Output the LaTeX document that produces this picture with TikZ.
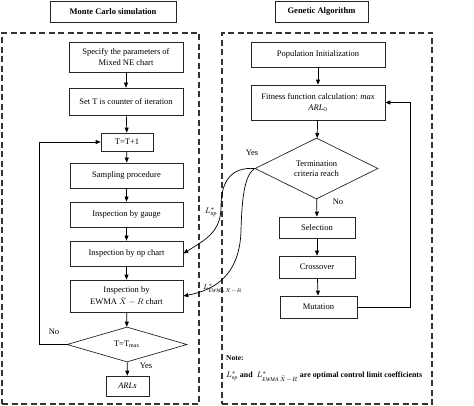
\documentclass[tikz,border=0pt]{standalone}
\usepackage{fontspec}
\setmainfont{Liberation Serif}
\usetikzlibrary{shapes.geometric,arrows.meta}
\newcommand{\Lnp}{$L^{*}_{\mathit{np}}$}
\newcommand{\Lew}{$L^{*}_{\mathit{EWMA}\,\bar{X}-R}$}
\begin{document}
\begin{tikzpicture}[x=1pt,y=-1pt,
  box/.style={draw=black!85,line width=0.7pt,inner sep=1pt,align=center,font=\fontsize{8.5}{11}\selectfont},
  title/.style={draw=black!85,line width=0.8pt,inner sep=1pt,align=center,font=\bfseries\fontsize{8.5}{10}\selectfont},
  dia/.style={draw=black!85,line width=0.7pt,diamond,aspect=2,inner sep=0pt,align=center,font=\fontsize{8.5}{10.5}\selectfont},
  frame/.style={draw=black!80,line width=1.1pt,dash pattern=on 6pt off 3.5pt},
  arr/.style={-{Triangle[length=5pt,width=4pt]},line width=0.7pt,draw=black},
  lbl/.style={font=\fontsize{8.5}{10}\selectfont,inner sep=0pt}
]
\useasboundingbox (0,0) rectangle (474,406);
% titles
\node[title,minimum width=126pt,minimum height=21pt] (t1) at (113,11.5) {Monte Carlo simulation};
\node[title,minimum width=93pt,minimum height=21pt] (t2) at (321.5,11.5) {Genetic Algorithm};
% frames
\node[frame,minimum width=197pt,minimum height=371pt] (f1) at (100.5,218.5) {};
\node[frame,minimum width=210pt,minimum height=371pt] (f2) at (327,218.5) {};
% left column
\node[box,minimum width=114pt,minimum height=30pt] (spec) at (126,57) {Specify the parameters of\\Mixed NE chart};
\node[box,minimum width=114pt,minimum height=27pt] (setT) at (126,101.5) {Set T is counter of iteration};
\node[box,minimum width=52pt,minimum height=18pt] (tt1) at (127,142) {T=T+1};
\node[box,minimum width=113pt,minimum height=25pt] (samp) at (126.5,175.5) {Sampling procedure};
\node[box,minimum width=113pt,minimum height=25pt] (gauge) at (126.5,214.5) {Inspection by gauge};
\node[box,minimum width=113pt,minimum height=25pt] (np) at (126.5,253.5) {Inspection by np chart};
\node[box,minimum width=113pt,minimum height=32pt,font=\fontsize{8.5}{12.5}\selectfont] (ewma) at (126.5,296) {Inspection by\\EWMA $\bar{X}-R$ chart};
\node[dia,minimum width=120pt,minimum height=35pt] (tmax) at (127,344.5) {T=T\textsubscript{max}};
\node[box,minimum width=43pt,minimum height=20pt] (arls) at (127.5,386) {\textit{ARLs}};
\coordinate (lp) at (39,344.5);
\draw[arr] (spec) -- (setT);
\draw[arr] (setT) -- (tt1);
\draw[arr] (tt1) -- (samp);
\draw[arr] (samp) -- (gauge);
\draw[arr] (gauge) -- (np);
\draw[arr] (np) -- (ewma);
\draw[arr] (ewma) -- (tmax);
\draw[arr] (tmax) -- (arls);
\draw[arr] (tmax.west) -- (lp) |- (tt1.west);
\node[lbl] (no1) at (54,332) {No};
\node[lbl] (yes1) at (146,366) {Yes};
% right column
\node[box,minimum width=134pt,minimum height=25pt] (pop) at (318,54.5) {Population Initialization};
\node[box,minimum width=134pt,minimum height=35pt] (fit) at (318,102.5) {Fitness function calculation: \textit{max}\\\textit{ARL}$_{0}$};
\node[dia,minimum width=123pt,minimum height=61pt] (term) at (316.5,168.5) {Termination\\criteria reach};
\node[box,minimum width=76pt,minimum height=21pt] (sel) at (317,227.5) {Selection};
\node[box,minimum width=76pt,minimum height=22pt] (cross) at (317,267) {Crossover};
\node[box,minimum width=77pt,minimum height=22pt] (mut) at (318.5,307) {Mutation};
\coordinate (rp) at (410,307);
\draw[arr] (pop) -- (fit);
\draw[arr] (fit) -- (term);
\draw[arr] (term) -- (sel);
\draw[arr] (sel) -- (cross);
\draw[arr] (cross) -- (mut);
\draw[arr] (mut.east) -- (rp) |- (fit.east);
\node[lbl] (yes2) at (252,153) {Yes};
\node[lbl] (no2) at (338,202) {No};
% curved connectors
\draw[arr] (term.west) .. controls (232,167) and (221,180) .. (221,207) .. controls (221,232) and (205,240) .. (np.east);
\draw[arr] (term.west) .. controls (245,175) and (242,195) .. (241,230) .. controls (240,275) and (215,290) .. (ewma.east);
\node[lbl,font=\fontsize{8}{10}\selectfont] (lnp) at (211,212) {\Lnp};
\node[lbl,anchor=west,font=\fontsize{7.5}{9}\selectfont] (lew) at (203,289) {\Lew};
% note
\node[lbl,anchor=west,font=\bfseries\fontsize{7.5}{9}\selectfont] (note) at (226,358) {Note:};
\node[lbl,anchor=west,font=\bfseries\fontsize{7.9}{9}\selectfont] (notetxt) at (226,377) {\Lnp\ and\ \ \Lew\ are optimal control limit coefficients};
\end{tikzpicture}
\end{document}
